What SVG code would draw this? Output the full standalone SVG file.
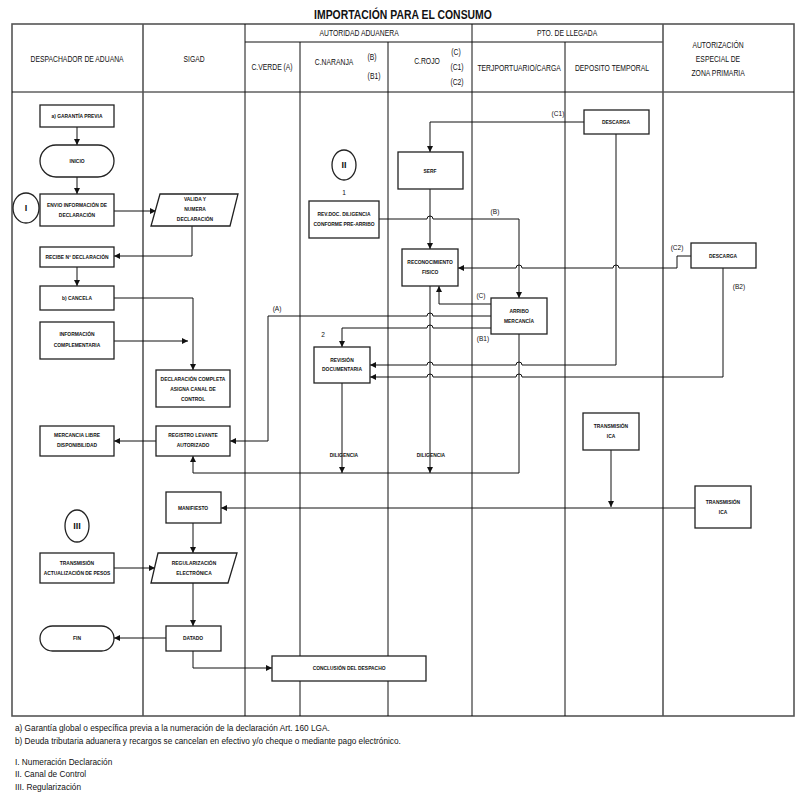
<svg xmlns="http://www.w3.org/2000/svg" width="806" height="797" viewBox="0 0 806 797">
<style>
text{font-family:"Liberation Sans Narrow","Liberation Sans",Arial,sans-serif;fill:#111;transform-box:fill-box;transform-origin:50% 50%;transform:scaleX(0.82)}
.h{font-size:8.3px;text-anchor:middle}
.ti{font-size:12.7px;font-weight:bold;text-anchor:middle}
.t{font-size:6px;font-weight:bold;text-anchor:middle}
.l{font-size:8px;text-anchor:middle}
.f{font-size:9.5px;transform-origin:0 50%;transform:scaleX(0.87)}
.r{font-size:9px;font-weight:bold;text-anchor:middle;transform:none}
.n{fill:#fff;stroke:#222;stroke-width:1.3}
.c{fill:none;stroke:#111;stroke-width:1}
.g{fill:none;stroke:#555;stroke-width:1.6}
.k{fill:none;stroke:#111;stroke-width:1}
</style>
<defs>
<marker id="a" markerUnits="userSpaceOnUse" markerWidth="6" markerHeight="6" refX="6" refY="3" orient="auto"><path d="M0,0 L6,3 L0,6 z" fill="#111"/></marker>
</defs>
<rect width="806" height="797" fill="#fff"/>
<g id="table">
<text class="ti" x="403" y="19">IMPORTACIÓN PARA EL CONSUMO</text>
<rect class="g" x="12" y="24" width="782" height="692"/>
<line class="k" x1="12" y1="92" x2="794" y2="92"/>
<line class="k" x1="245" y1="42" x2="663" y2="42"/>
<line class="g" x1="143" y1="24" x2="143" y2="716"/>
<line class="k" x1="245" y1="24" x2="245" y2="716"/>
<line class="k" x1="300" y1="42" x2="300" y2="716"/>
<line class="k" x1="388" y1="42" x2="388" y2="716"/>
<line class="k" x1="472" y1="24" x2="472" y2="716"/>
<line class="k" x1="565" y1="42" x2="565" y2="716"/>
<line class="g" x1="663" y1="24" x2="663" y2="716"/>
<text class="h" x="77" y="62">DESPACHADOR DE ADUANA</text>
<text class="h" x="194" y="62">SIGAD</text>
<text class="h" x="359" y="36">AUTORIDAD ADUANERA</text>
<text class="h" x="567" y="36">PTO. DE LLEGADA</text>
<text class="h" x="272" y="70">C.VERDE (A)</text>
<text class="h" x="334" y="65">C.NARANJA</text>
<text class="h" x="372" y="60">(B)</text>
<text class="h" x="374" y="79">(B1)</text>
<text class="h" x="427" y="64">C.ROJO</text>
<text class="h" x="456" y="55">(C)</text>
<text class="h" x="457" y="70">(C1)</text>
<text class="h" x="457" y="85">(C2)</text>
<text class="h" x="519" y="71">TERJPORTUARIO/CARGA</text>
<text class="h" x="612" y="71">DEPOSITO TEMPORAL</text>
<text class="h" x="718" y="48">AUTORIZACIÓN</text>
<text class="h" x="718" y="62">ESPECIAL DE</text>
<text class="h" x="718" y="76">ZONA PRIMARIA</text>
</g>
<g id="connectors">
<path class="c" d="M77 127V145" marker-end="url(#a)"/>
<path class="c" d="M77 177V194" marker-end="url(#a)"/>
<path class="c" d="M114 211H156" marker-end="url(#a)"/>
<path class="c" d="M192 226V256H114" marker-end="url(#a)"/>
<path class="c" d="M77 267V286" marker-end="url(#a)"/>
<path class="c" d="M114 298H193V370" marker-end="url(#a)"/>
<path class="c" d="M114 341H188" marker-end="url(#a)"/>
<path class="c" d="M156 441H114" marker-end="url(#a)"/>
<path class="c" d="M491 316H433A3 3 0 0 0 427 316H268V441H230" marker-end="url(#a)"/>
<path class="c" d="M519 334V473H193V456" marker-end="url(#a)"/>
<path class="c" d="M379 219H427A3 3 0 0 1 433 219H519V298" marker-end="url(#a)"/>
<path class="c" d="M584 122H430V152" marker-end="url(#a)"/>
<path class="c" d="M430 189V249" marker-end="url(#a)"/>
<path class="c" d="M430 286V473" marker-end="url(#a)"/>
<path class="c" d="M491 304H439V286" marker-end="url(#a)"/>
<path class="c" d="M491 328H433A3 3 0 0 0 427 328H342V347" marker-end="url(#a)"/>
<path class="c" d="M691 256H677V268H619A3 3 0 0 0 613 268H522A3 3 0 0 0 516 268H458" marker-end="url(#a)"/>
<path class="c" d="M616 134V365H522A3 3 0 0 0 516 365H433A3 3 0 0 0 427 365H370" marker-end="url(#a)"/>
<path class="c" d="M723 268V377H522A3 3 0 0 0 516 377H433A3 3 0 0 0 427 377H370" marker-end="url(#a)"/>
<path class="c" d="M342 383V473" marker-end="url(#a)"/>
<path class="c" d="M611 450V507" marker-end="url(#a)"/>
<path class="c" d="M695 508H221" marker-end="url(#a)"/>
<path class="c" d="M193 523V553" marker-end="url(#a)"/>
<path class="c" d="M114 568H155" marker-end="url(#a)"/>
<path class="c" d="M193 583V626" marker-end="url(#a)"/>
<path class="c" d="M166 638H114" marker-end="url(#a)"/>
<path class="c" d="M193 651V668H272" marker-end="url(#a)"/>
<text class="l" x="277" y="311">(A)</text>
<text class="l" x="495" y="214">(B)</text>
<text class="l" x="483" y="341">(B1)</text>
<text class="l" x="481" y="298">(C)</text>
<text class="l" x="558" y="116">(C1)</text>
<text class="l" x="677" y="250">(C2)</text>
<text class="l" x="739" y="289">(B2)</text>
<text class="t" x="344" y="457">DILIGENCIA</text>
<text class="t" x="431" y="457">DILIGENCIA</text>
</g>
<g id="garantia"><rect class="n" x="40" y="105" width="74" height="22"/><text class="t" x="77" y="118">a) GARANTÍA PREVIA</text></g>
<g id="inicio"><rect class="n" x="40" y="145" width="74" height="32" rx="16"/><text class="t" x="77" y="163">INICIO</text></g>
<g id="envio"><rect class="n" x="40" y="194" width="74" height="32"/><text class="t" x="77" y="207">ENVIO INFORMACIÓN DE</text><text class="t" x="77" y="217">DECLARACIÓN</text></g>
<g id="circ1"><ellipse class="n" cx="26" cy="208" rx="13" ry="15"/><text class="r" x="26" y="211">I</text></g>
<g id="valida"><polygon class="n" points="160,194 238,194 230,226 151,226"/><text class="t" x="195" y="201">VALIDA Y</text><text class="t" x="195" y="211">NUMERA</text><text class="t" x="195" y="221">DECLARACIÓN</text></g>
<g id="recibe"><rect class="n" x="40" y="247" width="74" height="20"/><text class="t" x="77" y="259">RECIBE N° DECLARACIÓN</text></g>
<g id="cancela"><rect class="n" x="40" y="286" width="74" height="24"/><text class="t" x="77" y="300">b) CANCELA</text></g>
<g id="infocomp"><rect class="n" x="40" y="322" width="74" height="37"/><text class="t" x="77" y="336">INFORMACIÓN</text><text class="t" x="77" y="347">COMPLEMENTARIA</text></g>
<g id="declcompleta"><rect class="n" x="156" y="370" width="74" height="37"/><text class="t" x="193" y="381">DECLARACIÓN COMPLETA</text><text class="t" x="193" y="391">ASIGNA CANAL DE</text><text class="t" x="193" y="401">CONTROL</text></g>
<g id="mercancia"><rect class="n" x="40" y="426" width="74" height="30"/><text class="t" x="77" y="437">MERCANCIA LIBRE</text><text class="t" x="77" y="447">DISPONIBILIDAD</text></g>
<g id="registro"><rect class="n" x="156" y="426" width="74" height="30"/><text class="t" x="193" y="437">REGISTRO LEVANTE</text><text class="t" x="193" y="447">AUTORIZADO</text></g>
<g id="manifiesto"><rect class="n" x="166" y="492" width="55" height="31"/><text class="t" x="193" y="510">MANIFIESTO</text></g>
<g id="circ3"><ellipse class="n" cx="77" cy="526" rx="12" ry="16"/><text class="r" x="77" y="529">III</text></g>
<g id="pesos"><rect class="n" x="40" y="553" width="74" height="30"/><text class="t" x="77" y="565">TRANSMISIÓN</text><text class="t" x="77" y="575">ACTUALIZACIÓN DE PESOS</text></g>
<g id="regularizacion"><polygon class="n" points="158,553 237,553 228,583 151,583"/><text class="t" x="194" y="565">REGULARIZACIÓN</text><text class="t" x="194" y="575">ELECTRÓNICA</text></g>
<g id="datado"><rect class="n" x="166" y="626" width="55" height="25"/><text class="t" x="193" y="640">DATADO</text></g>
<g id="fin"><rect class="n" x="40" y="626" width="74" height="25" rx="12.5"/><text class="t" x="77" y="640">FIN</text></g>
<g id="conclusion"><rect class="n" x="272" y="656" width="154" height="25"/><text class="t" x="349" y="670">CONCLUSIÓN DEL DESPACHO</text></g>
<g id="circ2"><ellipse class="n" cx="344" cy="165" rx="12" ry="15"/><text class="r" x="344" y="168">II</text><text class="l" x="344" y="195">1</text></g>
<g id="revdoc"><rect class="n" x="309" y="201" width="70" height="37"/><text class="t" x="344" y="216">REV.DOC. DILIGENCIA</text><text class="t" x="344" y="226">CONFORME PRE-ARRIBO</text></g>
<g id="serf"><rect class="n" x="398" y="152" width="65" height="37"/><text class="t" x="430" y="173">SERF</text></g>
<g id="reconocimiento"><rect class="n" x="402" y="249" width="56" height="37"/><text class="t" x="430" y="264">RECONOCIMIENTO</text><text class="t" x="430" y="274">FISICO</text></g>
<g id="descarga1"><rect class="n" x="584" y="110" width="65" height="24"/><text class="t" x="616" y="124">DESCARGA</text></g>
<g id="descarga2"><rect class="n" x="691" y="243" width="65" height="25"/><text class="t" x="723" y="258">DESCARGA</text></g>
<g id="arribo"><rect class="n" x="491" y="298" width="56" height="36"/><text class="t" x="519" y="313">ARRIBO</text><text class="t" x="519" y="323">MERCANCÍA</text></g>
<g id="revision"><text class="l" x="323" y="337">2</text><rect class="n" x="314" y="347" width="56" height="36"/><text class="t" x="342" y="362">REVISIÓN</text><text class="t" x="342" y="371">DOCUMENTARIA</text></g>
<g id="ica1"><rect class="n" x="583" y="413" width="56" height="37"/><text class="t" x="611" y="428">TRANSMISIÓN</text><text class="t" x="611" y="438">ICA</text></g>
<g id="ica2"><rect class="n" x="695" y="486" width="56" height="42"/><text class="t" x="723" y="504">TRANSMISIÓN</text><text class="t" x="723" y="514">ICA</text></g>
<g id="notes">
<text class="f" x="15" y="731">a) Garantía global o específica previa a la numeración de la declaración Art. 160 LGA.</text>
<text class="f" x="15" y="744">b) Deuda tributaria aduanera y recargos se cancelan en efectivo y/o cheque o mediante pago electrónico.</text>
<text class="f" x="15" y="765">I. Numeración Declaración</text>
<text class="f" x="15" y="777">II. Canal de Control</text>
<text class="f" x="15" y="790">III. Regularización</text>
</g>
</svg>
